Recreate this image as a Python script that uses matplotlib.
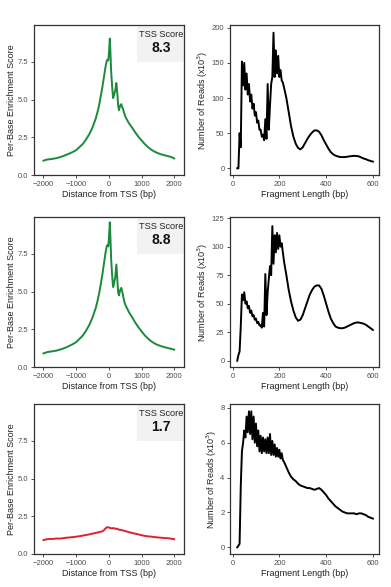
#!/usr/bin/env python3

import matplotlib
matplotlib.use("Agg")
import matplotlib.pyplot as plt
from matplotlib.patches import Rectangle

plt.rcParams["font.family"] = ["Liberation Sans", "DejaVu Sans"]

# --- TSS enrichment profiles (left column) ---
tss_x = [-2000, -1900, -1800, -1700, -1600, -1500, -1400, -1300, -1200, -1100,
         -1000, -900, -800, -700, -600, -500, -400, -350, -300, -250, -200,
         -150, -100, -60, -35, -15, 10, 30, 50, 70, 100, 130, 160, 195, 230,
         260, 285, 310, 345, 380, 410, 440, 470, 510, 560, 610, 660, 710, 800,
         900, 1000, 1100, 1200, 1300, 1400, 1500, 1600, 1700, 1800, 1900, 2000]
tss_s1 = [0.95, 1.02, 1.05, 1.08, 1.12, 1.18, 1.25, 1.34, 1.43, 1.53,
          1.65, 1.85, 2.05, 2.35, 2.70, 3.15, 3.75, 4.15, 4.60, 5.20, 5.80,
          6.50, 7.20, 7.60, 7.65, 7.60, 8.30, 9.05, 8.10, 6.90, 5.90, 5.10, 5.30, 5.60, 6.10,
          5.40, 4.60, 4.30, 4.60, 4.70, 4.50, 4.35, 4.10, 3.85, 3.65, 3.45, 3.30, 3.15, 2.85,
          2.55, 2.30, 2.05, 1.85, 1.68, 1.55, 1.45, 1.37, 1.31, 1.26, 1.20, 1.10]
tss_s2 = [0.90, 0.98, 1.02, 1.05, 1.09, 1.15, 1.22, 1.31, 1.41, 1.52,
          1.65, 1.86, 2.08, 2.40, 2.78, 3.28, 3.92, 4.35, 4.85, 5.45, 6.10,
          6.85, 7.60, 8.05, 8.10, 8.00, 8.80, 9.60, 8.50, 7.20, 6.10, 5.30, 5.55, 5.95, 6.80,
          5.80, 4.95, 4.75, 5.10, 5.25, 5.00, 4.70, 4.35, 4.10, 3.88, 3.66, 3.48, 3.32, 2.98,
          2.65, 2.37, 2.10, 1.88, 1.70, 1.56, 1.46, 1.38, 1.32, 1.26, 1.21, 1.15]
tss_x3 = [-2000, -1900, -1800, -1700, -1600, -1500, -1400, -1300, -1200, -1100,
          -1000, -900, -800, -700, -600, -500, -400, -300, -200, -150, -100, -50,
          0, 50, 100, 150, 200, 250, 300, 400, 500, 600, 700, 800, 900, 1000,
          1100, 1200, 1300, 1400, 1500, 1600, 1700, 1800, 1900, 2000]
tss_s3 = [0.92, 0.98, 1.00, 1.00, 1.03, 1.02, 1.05, 1.08, 1.10, 1.12,
          1.15, 1.18, 1.22, 1.26, 1.30, 1.35, 1.40, 1.45, 1.50, 1.58, 1.70, 1.78,
          1.76, 1.72, 1.70, 1.72, 1.67, 1.68, 1.62, 1.58, 1.52, 1.46, 1.40, 1.35, 1.30, 1.25,
          1.20, 1.17, 1.15, 1.12, 1.10, 1.08, 1.06, 1.05, 1.02, 0.98]
tss_scores = ["8.3", "8.8", "1.7"]

# --- fragment length distributions (right column), reads x10^3 ---
frag_x = [20, 25, 30, 35, 40, 45, 50, 55, 60, 65, 70, 75, 80, 85, 90, 95, 100,
          105, 110, 115, 120, 125, 130, 135, 140, 145, 150, 155, 160, 165, 170,
          175, 180, 185, 190, 195, 200, 205, 210, 215, 220, 230, 240, 250, 260,
          270, 280, 290, 300, 310, 320, 330, 340, 350, 360, 370, 380, 390, 400,
          410, 420, 430, 440, 450, 460, 470, 480, 490, 500, 510, 520, 530, 540,
          550, 560, 570, 580, 590, 600]
frag_r1 = [0, 0, 50, 30, 152, 118, 150, 112, 135, 105, 120, 95, 105, 85, 92, 75, 80,
           65, 68, 55, 55, 45, 48, 40, 70, 42, 120, 55, 90, 120, 130,
           193, 130, 168, 135, 160, 130, 140, 125, 122, 115, 100, 80, 60, 45,
           35, 29, 27, 30, 36, 42, 47, 51, 54, 54, 52, 47, 40, 34,
           28, 23, 20, 18, 17, 16, 16, 16, 16.5, 17, 17.5, 17.8, 17.5, 17,
           15.5, 14, 13, 11.5, 10.5, 9.5]
frag_r2 = [0, 5, 8, 30, 58, 53, 60, 50, 52, 46, 48, 42, 44, 39, 40, 36, 37,
           33, 34, 31, 31, 29, 42, 30, 76, 40, 60, 72, 83, 75, 118,
           85, 110, 95, 112, 98, 110, 100, 103, 95, 87, 75, 62, 52, 44,
           38, 35, 36, 40, 46, 52, 58, 62, 65, 66, 66, 63, 57, 50,
           43, 37, 33, 30, 29, 28.5, 28.5, 29, 30, 31, 32, 33, 33.5, 33.5,
           33, 32.5, 31.5, 30, 28.5, 27]
frag_r3 = [0, 0.1, 0.2, 3.5, 5.5, 6.0, 6.7, 6.3, 7.5, 6.6, 7.8, 6.5, 7.8, 6.2, 7.5, 6.0, 7.1,
           5.8, 6.7, 5.5, 6.4, 5.4, 6.3, 5.5, 6.2, 5.4, 6.3, 5.4, 6.5, 5.3, 6.1,
           5.3, 5.9, 5.2, 5.7, 5.2, 5.6, 5.1, 5.4, 5.0, 4.9, 4.6, 4.3, 4.05, 3.9,
           3.8, 3.65, 3.55, 3.5, 3.45, 3.4, 3.4, 3.35, 3.3, 3.35, 3.4, 3.3, 3.15, 3.0,
           2.8, 2.65, 2.5, 2.35, 2.25, 2.15, 2.05, 2.0, 1.95, 1.95, 1.95, 1.95, 1.9, 1.95,
           1.95, 1.9, 1.85, 1.75, 1.7, 1.65]

frag_yticks = [[0, 50, 100, 150, 200], [0, 25, 50, 75, 100, 125], [0, 2, 4, 6, 8]]
frag_ylims = [(-9.5, 204), (-5.5, 126), (-0.38, 8.22)]

GREEN = "#1b8a3c"
RED = "#e0202e"
TXT = "#4d4d4d"

fig = plt.figure(figsize=(3.91, 5.87), dpi=100)

bottoms = [1 - 175 / 587, 1 - 367 / 587, 1 - 554 / 587]
h = 150 / 587


def style(ax):
    for sp in ax.spines.values():
        sp.set_color("#333333")
        sp.set_linewidth(0.9)
    ax.tick_params(labelsize=5.5, colors="#333333", labelcolor=TXT,
                   length=2.5, width=0.6, pad=1.5)


tss_data = [(tss_x, tss_s1, GREEN), (tss_x, tss_s2, GREEN), (tss_x3, tss_s3, RED)]
frag_data = [frag_r1, frag_r2, frag_r3]

for i in range(3):
    # left: TSS enrichment
    ax = fig.add_axes([34 / 391, bottoms[i], 150 / 391, h])
    xs, ys, col = tss_data[i]
    ax.plot(xs, ys, color=col, lw=1.4)
    ax.set_xlim(-2290, 2300)
    ax.set_ylim(0, 9.95)
    ax.set_xticks([-2000, -1000, 0, 1000, 2000])
    ax.set_yticks([0, 2.5, 5, 7.5])
    ax.set_yticklabels(["0.0", "2.5", "5.0", "7.5"])
    ax.set_xlabel("Distance from TSS (bp)", fontsize=6.5, color="#222222", labelpad=1.5)
    ax.set_ylabel("Per-Base Enrichment Score", fontsize=6.5, color="#222222", labelpad=1)
    style(ax)
    ax.add_patch(Rectangle((0.687, 0.755), 0.313, 0.245, transform=ax.transAxes,
                           facecolor="#f2f2f2", edgecolor="none", zorder=0))
    ax.text(0.845, 0.935, "TSS Score", transform=ax.transAxes, ha="center",
            va="center", fontsize=6.6, color="#222222")
    ax.text(0.845, 0.845, tss_scores[i], transform=ax.transAxes, ha="center",
            va="center", fontsize=10, fontweight="bold", color="#111111")

    # right: fragment length distribution
    ax2 = fig.add_axes([230 / 391, bottoms[i], 149 / 391, h])
    ax2.plot(frag_x, frag_data[i], color="black", lw=1.4)
    ax2.set_xlim(-11, 626)
    ax2.set_ylim(*frag_ylims[i])
    ax2.set_xticks([0, 200, 400, 600])
    ax2.set_yticks(frag_yticks[i])
    ax2.set_xlabel("Fragment Length (bp)", fontsize=6.5, color="#222222", labelpad=1.5)
    ax2.set_ylabel("Number of Reads (x10$^3$)", fontsize=6.5, color="#222222", labelpad=1)
    style(ax2)

fig.savefig("out.png", dpi=100)
